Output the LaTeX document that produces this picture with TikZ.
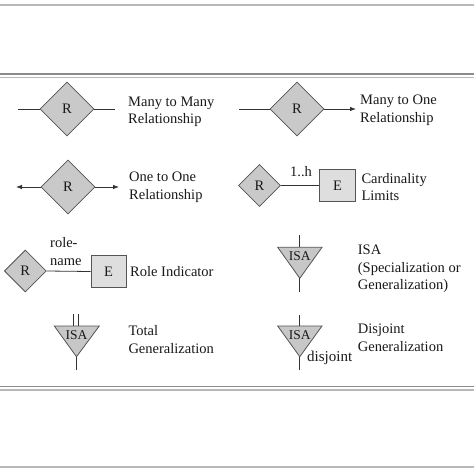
\documentclass[tikz,border=0pt]{standalone}
\usepackage{fontspec}
\setmainfont{Liberation Serif}
\usetikzlibrary{shapes.geometric,arrows.meta}
\definecolor{dfill}{gray}{0.79}
\definecolor{efill}{gray}{0.87}
\definecolor{tfill}{gray}{0.78}
\definecolor{edgec}{gray}{0.33}
\definecolor{linec}{gray}{0.2}
\definecolor{textc}{gray}{0.1}
\definecolor{rulea}{gray}{0.55}
\definecolor{ruleb}{gray}{0.72}
\begin{document}
\begin{tikzpicture}[x=1pt,y=-1pt,
  font=\fontsize{14.5}{17.5}\selectfont, text=textc,
  rel/.style={diamond, aspect=1, draw=edgec, fill=dfill, inner sep=0pt, line width=0.8pt},
  ent/.style={rectangle, draw=edgec, fill=efill, inner sep=0pt, line width=0.8pt, minimum width=36pt, minimum height=32pt},
  lbl/.style={anchor=west, align=left, inner sep=0pt},
  conn/.style={draw=linec, line width=0.8pt},
  arr/.style={conn, -{Latex[length=6pt,width=4.5pt]}},
  isatri/.style={draw=edgec, fill=tfill, line width=0.8pt, line join=miter},
  isatxt/.style={inner sep=0pt, font=\fontsize{13.5}{15}\selectfont}
]
\useasboundingbox (0,0) rectangle (474,474);
\fill[white] (0,0) rectangle (474,474);

% rules
\draw[ruleb, line width=1.4pt] (0,5) -- (474,5);
\draw[rulea, line width=1.5pt] (0,74) -- (474,74);
\draw[ruleb, line width=1.5pt] (0,77.5) -- (474,77.5);
\draw[rulea, line width=1.5pt] (0,386.5) -- (474,386.5);
\draw[ruleb, line width=1.5pt] (0,390) -- (474,390);
\draw[ruleb, line width=1.4pt] (0,467) -- (474,467);

% Many to Many
\node[rel, minimum size=54pt] (r1) at (67,109) {R};
\coordinate (r1l) at (18,109);
\coordinate (r1r) at (115,109);
\draw[conn] (r1l) -- (r1.west);
\draw[conn] (r1.east) -- (r1r);
\node[lbl] (t1) at (128,112) {Many to Many\\Relationship};

% One to One
\node[rel, minimum size=54pt] (r2) at (68,187) {R};
\coordinate (r2l) at (16,187);
\coordinate (r2r) at (119,187);
\draw[arr] (r2.west) -- (r2l);
\draw[arr] (r2.east) -- (r2r);
\node[lbl] (t2) at (129,187) {One to One\\Relationship};

% Many to One
\node[rel, minimum size=54pt] (r3) at (297,109) {R};
\coordinate (r3l) at (239,109);
\coordinate (r3r) at (356,109);
\draw[conn] (r3l) -- (r3.west);
\draw[arr] (r3.east) -- (r3r);
\node[lbl] (t3) at (360,110) {Many to One\\Relationship};

% Cardinality limits
\node[rel, minimum size=42pt] (r4) at (259.5,185.5) {R};
\node[ent] (e4) at (337.5,185.5) {E};
\draw[conn] (r4.east) -- (e4.west);
\node[inner sep=0pt] (c4) at (301,172) {1..h};
\node[lbl] (t4) at (361.3,187) {Cardinality\\Limits};

% Role indicator
\node[rel, minimum size=42pt] (r5) at (25.3,271) {R};
\node[ent, minimum width=35pt] (e5) at (108.5,271.5) {E};
\draw[conn] (r5.east) -- (e5.west);
\node[lbl] (rn) at (50,251.7) {role-\\name};
\node[lbl] (t5) at (130,271.7) {Role Indicator};

% ISA
\coordinate (a1) at (277.7,247.3);
\coordinate (b1) at (322,247.3);
\coordinate (p1) at (299.8,278.3);
\coordinate (u1) at (299.8,235);
\coordinate (d1) at (299.8,291.7);
\draw[isatri] (a1) -- (b1) -- (p1) -- cycle;
\node[isatxt] (i1) at (299.8,256.5) {ISA};
\draw[conn] (u1) -- (u1 |- a1);
\draw[conn] (p1) -- (d1);
\node[lbl] (t6) at (357.7,269) {ISA\\(Specialization or\\Generalization)};

% Total generalization
\coordinate (a2) at (54.3,326);
\coordinate (b2) at (99.3,326);
\coordinate (p2) at (76.5,356.7);
\coordinate (d2) at (76.5,370);
\coordinate (ua) at (73.5,314);
\coordinate (ub) at (78.5,314);
\draw[isatri] (a2) -- (b2) -- (p2) -- cycle;
\node[isatxt] (i2) at (76.5,335.5) {ISA};
\draw[conn] (ua) -- (ua |- a2);
\draw[conn] (ub) -- (ub |- a2);
\draw[conn] (p2) -- (d2);
\node[lbl] (t7) at (128.3,339.3) {Total\\Generalization};

% Disjoint generalization
\coordinate (a3) at (277.7,326);
\coordinate (b3) at (322,326);
\coordinate (p3) at (299.8,356.7);
\coordinate (u3) at (299.8,315);
\coordinate (d3) at (299.8,370);
\draw[isatri] (a3) -- (b3) -- (p3) -- cycle;
\node[isatxt] (i3) at (299.8,335.5) {ISA};
\draw[conn] (u3) -- (u3 |- a3);
\draw[conn] (p3) -- (d3);
\node[lbl, font=\fontsize{15}{17}\selectfont] (dj) at (307,357.5) {disjoint};
\node[lbl] (t8) at (357.7,338) {Disjoint\\Generalization};
\end{tikzpicture}
\end{document}
